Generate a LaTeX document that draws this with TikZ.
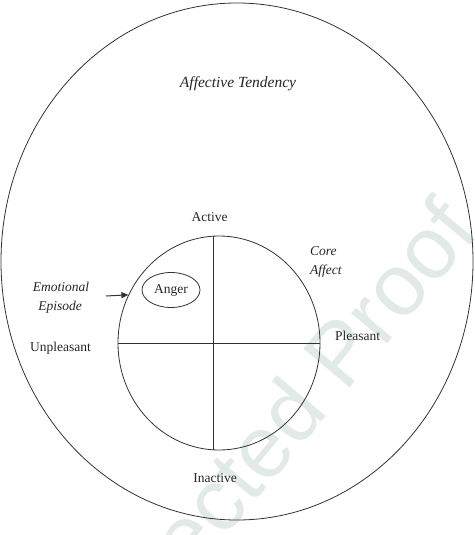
\documentclass[tikz,border=0pt]{standalone}
\usepackage{fontspec}
\setmainfont{Liberation Serif}[ItalicFont={Liberation Serif Italic}]
\newfontfamily\wmfont{Liberation Sans}
\usetikzlibrary{shapes.geometric,arrows.meta,calc}
\definecolor{wm}{RGB}{226,234,232}
\definecolor{ln}{RGB}{50,50,50}
\tikzset{
  lbl/.style={inner sep=0pt, font=\fontsize{13.5}{15}\selectfont, text=black!85},
  ilbl/.style={inner sep=0pt, font=\fontsize{13.5}{15}\selectfont\itshape, text=black!85},
  ring/.style={draw=ln, line width=0.8pt, ellipse, inner sep=0pt},
  axis/.style={draw=ln, line width=0.8pt},
}
\begin{document}
\begin{tikzpicture}[x=1pt,y=1pt]
\useasboundingbox (0,0) rectangle (474,-535);
\begin{scope}
\clip (0,0) rectangle (474,-535);
\node[anchor=base east, rotate=50, inner sep=0pt, text=wm, font=\wmfont\fontsize{88}{90}\selectfont] (wmark) at (481,-232) {Uncorrected Proof};
\end{scope}
% outer ellipse
\node[ring, minimum width=472pt, minimum height=517pt] (outer) at (237,-261.5) {};
% inner circle
\node[ring, minimum width=202pt, minimum height=214pt] (inner) at (219,-343) {};
\coordinate (vtop) at ($(inner.north)+(-6,-0.2)$);
\coordinate (vbot) at ($(inner.south)+(-6,0.2)$);
\draw[axis] (inner.west) -- (inner.east);
\draw[axis] (vtop) -- (vbot);
% anger
\node[ring, minimum width=58pt, minimum height=35pt, lbl] (anger) at (171,-290) {Anger};
% arrow
\coordinate (epiarrow) at (106,-296);
\draw[axis, line width=1pt, -{Triangle[length=7pt,width=6pt]}] (epiarrow) -- (inner.152.6);
% labels
\node[ilbl, anchor=base, font=\fontsize{15.5}{17}\selectfont\itshape] (tend) at (238,-87) {Affective Tendency};
\node[lbl, anchor=base] (active) at (209.5,-221) {Active};
\node[lbl, anchor=base] (inactive) at (215,-482) {Inactive};
\node[lbl, anchor=base west] (pleasant) at (335,-340) {Pleasant};
\node[lbl, anchor=base] (unpleasant) at (60.5,-351) {Unpleasant};
\node[ilbl, anchor=base west] (core) at (310,-255) {Core};
\node[ilbl, anchor=base west] (affect) at (310,-274) {Affect};
\node[ilbl, anchor=base] (emo) at (61,-291) {Emotional};
\node[ilbl, anchor=base] (episode) at (60,-310) {Episode};
\end{tikzpicture}
\end{document}
